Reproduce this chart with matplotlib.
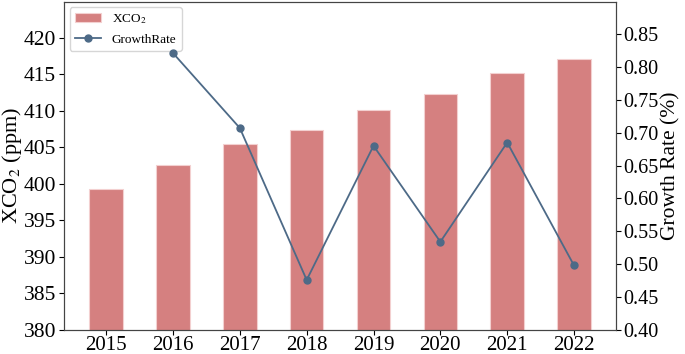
import matplotlib
matplotlib.use("Agg")
import matplotlib.pyplot as plt
import numpy as np

plt.rcParams['font.family'] = ['Liberation Serif', 'DejaVu Serif']
plt.rcParams['mathtext.fontset'] = 'stix'

years = ['2015', '2016', '2017', '2018', '2019', '2020', '2021', '2022']
xco2 = [399.3, 402.5, 405.4, 407.3, 410.05, 412.3, 415.1, 417.1]
growth_years = ['2016', '2017', '2018', '2019', '2020', '2021', '2022']
growth_rate = [0.821, 0.707, 0.476, 0.680, 0.534, 0.685, 0.498]

x = np.arange(len(years))
gx = [years.index(y) for y in growth_years]

fig = plt.figure(figsize=(6.85, 3.54), dpi=100)
ax = fig.add_axes([0.094, 0.068, 0.805, 0.927])
bars = ax.bar(x, xco2, width=0.5, color='#d58080', edgecolor='#f3d0d0',
              linewidth=0.8, label='XCO$_2$')
ax.set_xticks(x)
ax.set_xticklabels(years)
ax.set_ylim(380, 424.9)
ax.set_yticks(np.arange(380, 421, 5))
ax.set_ylabel('XCO$_2$ (ppm)', fontsize=16, labelpad=0)
ax.tick_params(axis='y', labelsize=15.5, pad=2.5)
ax.tick_params(axis='x', labelsize=15, pad=1)

ax2 = ax.twinx()
line, = ax2.plot(gx, growth_rate, color='#4d6a87', marker='o', markersize=5,
                 linewidth=1.3, label='GrowthRate')
ax2.set_ylim(0.40, 0.899)
ax2.set_yticks(np.arange(0.40, 0.851, 0.05))
ax2.set_yticklabels([f"{v:.2f}" for v in np.arange(0.40, 0.851, 0.05)])
ax2.set_ylabel('Growth Rate (%)', fontsize=15.5)
ax2.yaxis.set_label_coords(1.083, 0.5)
ax2.tick_params(labelsize=14.5, pad=2)

for a in (ax, ax2):
    for s in a.spines.values():
        s.set_color('#444444')

ax.legend([bars, line], ['XCO$_2$', 'GrowthRate'], loc='upper left',
          fontsize=9.5, frameon=True, borderaxespad=0.4, labelspacing=0.55)

plt.savefig('out.png', dpi=100)
